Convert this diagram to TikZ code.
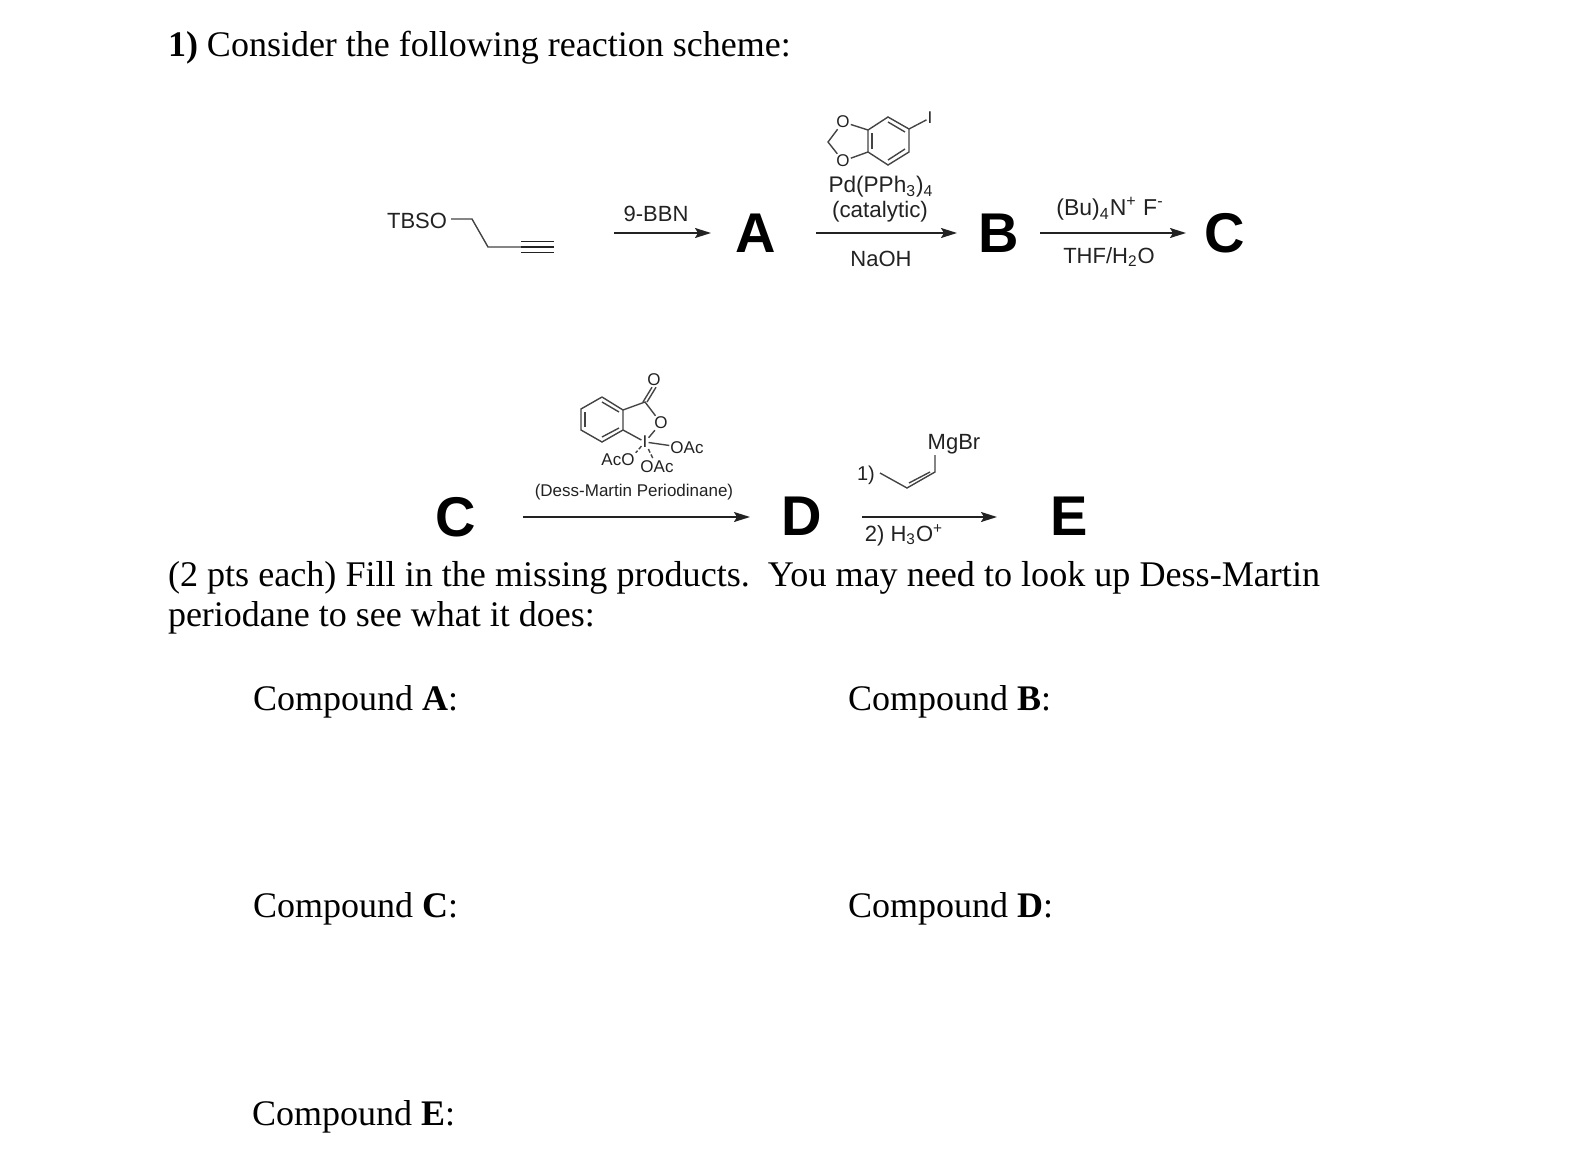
\documentclass[tikz,border=0pt]{standalone}
\usepackage{fontspec}
\setmainfont{Liberation Serif}
\newfontfamily\chemsans{Liberation Sans}
\usetikzlibrary{arrows.meta}
\definecolor{inkc}{HTML}{222222}
\definecolor{bondc}{HTML}{444444}
\tikzset{
  body/.style={anchor=base west,inner sep=0pt,outer sep=0pt,text=black,font=\fontsize{18}{20}\selectfont},
  lab/.style={inner sep=0pt,outer sep=0pt,text=inkc,font=\chemsans\fontsize{11}{12}\selectfont},
  atom/.style={inner sep=0.6pt,outer sep=0pt,text=inkc,font=\chemsans\fontsize{8.5}{10}\selectfont},
  small/.style={inner sep=0.6pt,outer sep=0pt,text=inkc,font=\chemsans\fontsize{8.5}{10}\selectfont},
  big/.style={inner sep=0pt,outer sep=0pt,text=black,font=\chemsans\bfseries\fontsize{28}{30}\selectfont},
  bond/.style={draw=bondc,line width=0.7pt},
  triple/.style={draw=inkc,line width=0.9pt},
  rxn/.style={draw=inkc,line width=0.85pt,-{Stealth[length=8pt,width=5pt,inset=1.5pt]}},
}
\begin{document}
\begin{tikzpicture}[x=0.5pt,y=-0.5pt]
\useasboundingbox (0,0) rectangle (1592,1151);
% body text
\node[body] (t1) at (168,56) {\textbf{1)} Consider the following reaction scheme:};
\node[body,font=\fontsize{18.06}{20}\selectfont] (t2) at (168,586) {(2 pts each) Fill in the missing products.\ \ You may need to look up Dess-Martin};
\node[body] (t3) at (168,626) {periodane to see what it does:};
\node[body] (ca) at (253,710) {Compound \textbf{A}:};
\node[body] (cb) at (848,710) {Compound \textbf{B}:};
\node[body] (cc) at (253,917) {Compound \textbf{C}:};
\node[body] (cd) at (848,917) {Compound \textbf{D}:};
\node[body] (ce) at (252,1125) {Compound \textbf{E}:};
% row 1 letters
\node[big] (A) at (756,233) {A};
\node[big] (B) at (999,233) {B};
\node[big] (C1) at (1225,233) {C};
% starting material
\node[lab,anchor=east] (tbso) at (447,221) {TBSO};
\coordinate (s0) at (451,219);
\coordinate (s1) at (472,219);
\coordinate (s2) at (488,247);
\coordinate (s3) at (521,247);
\coordinate (s4) at (554,247);
\draw[bond] (s0) -- (s1) -- (s2) -- (s3);
\draw[triple] (s3) -- (s4);
\draw[triple] ([yshift=2.75pt]s3) -- ([yshift=2.75pt]s4);
\draw[triple] ([yshift=-2.75pt]s3) -- ([yshift=-2.75pt]s4);
% arrow 1
\coordinate (a1s) at (614,233);
\coordinate (a1e) at (711,233);
\draw[rxn] (a1s) -- (a1e);
\node[lab] (bbn) at (656,214) {9-BBN};
% aryl iodide
\coordinate (r1) at (868,130);
\coordinate (r2) at (888,117);
\coordinate (r3) at (909,129);
\coordinate (r4) at (909,152);
\coordinate (r5) at (888,165);
\coordinate (r6) at (868,152);
\node[atom] (oa) at (843,122) {O};
\node[atom] (ob) at (843,161) {O};
\node[atom] (iod) at (930,118) {I};
\coordinate (ch) at (828,142);
\draw[bond] (r1) -- (r2) -- (r3) -- (r4) -- (r5) -- (r6) -- (r1);
\draw[bond] (872,133) -- (872,149);
\draw[bond] (888,122) -- (905,132);
\draw[bond] (905,149) -- (888,160);
\draw[bond] (r1) -- (oa);
\draw[bond] (r6) -- (ob);
\draw[bond] (oa) -- (ch) -- (ob);
\draw[bond] (r3) -- (iod);
\node[lab,font=\chemsans\fontsize{11.3}{12}\selectfont] (pd) at (881,187) {Pd(PPh\textsubscript{3})\textsubscript{4}};
\node[lab,font=\chemsans\fontsize{11.2}{12}\selectfont] (cat) at (880,212) {(catalytic)};
\coordinate (a2s) at (816,233);
\coordinate (a2e) at (957,233);
\draw[rxn] (a2s) -- (a2e);
\node[lab] (naoh) at (881,259) {NaOH};
% arrow 3
\coordinate (a3s) at (1040,233);
\coordinate (a3e) at (1186,233);
\draw[rxn] (a3s) -- (a3e);
\node[lab,font=\chemsans\fontsize{11.5}{12}\selectfont] (bu) at (1110,209) {(Bu)\textsubscript{4}N\textsuperscript{+} F\textsuperscript{-}};
\node[lab] (thf) at (1109,257) {THF/H\textsubscript{2}O};
% row 2 letters
\node[big] (C2) at (456,517) {C};
\node[big] (D) at (802,516) {D};
\node[big] (E) at (1069,516) {E};
% DMP
\coordinate (b1) at (602,397);
\coordinate (b2) at (623,410);
\coordinate (b3) at (623,430);
\coordinate (b4) at (602,442);
\coordinate (b5) at (581,430);
\coordinate (b6) at (581,409);
\coordinate (cco) at (645,402);
\node[atom] (otop) at (654,380) {O};
\node[atom] (oring) at (661,423) {O};
\node[atom] (iodd) at (645,442) {I};
\node[small] (oac1) at (687,448) {OAc};
\node[small] (aco) at (618,460) {AcO};
\node[small] (oac2) at (657,467) {OAc};
\draw[bond] (b1) -- (b2) -- (b3) -- (b4) -- (b5) -- (b6) -- (b1);
\draw[bond] (602,402) -- (619,412);
\draw[bond] (602,437) -- (619,428);
\draw[bond] (585,412) -- (585,427);
\draw[bond] (b2) -- (cco) -- (oring) -- (iodd) -- (b3);
\draw[bond] ([xshift=-1pt]cco) -- ([xshift=-1pt]otop.south);
\draw[bond] ([xshift=1pt]cco) -- ([xshift=1pt]otop.south);
\draw[bond] (iodd) -- (oac1);
\draw[bond,dash pattern=on 2pt off 1pt] (iodd) -- (aco.north east);
\draw[bond,dash pattern=on 2pt off 1pt] (iodd) -- (oac2);
\node[small] (dmp) at (634,492) {(Dess-Martin Periodinane)};
\coordinate (a4s) at (523,517);
\coordinate (a4e) at (750,517);
\draw[rxn] (a4s) -- (a4e);
% Grignard
\node[small,font=\chemsans\fontsize{11}{12}\selectfont] (mg) at (954,444) {MgBr};
\node[small,font=\chemsans\fontsize{10}{12}\selectfont] (one) at (866,475) {1)};
\coordinate (g1) at (880,473);
\coordinate (g2) at (907,488);
\coordinate (g3) at (935,472);
\coordinate (g4) at (935,455);
\draw[bond] (g1) -- (g2) -- (g3) -- (g4);
\draw[bond] (909,483) -- (930,472);
\coordinate (a5s) at (862,517);
\coordinate (a5e) at (997,517);
\draw[rxn] (a5s) -- (a5e);
\node[small,font=\chemsans\fontsize{11}{12}\selectfont] (h3o) at (904,535) {2) H\textsubscript{3}O\textsuperscript{+}};
\end{tikzpicture}
\end{document}
